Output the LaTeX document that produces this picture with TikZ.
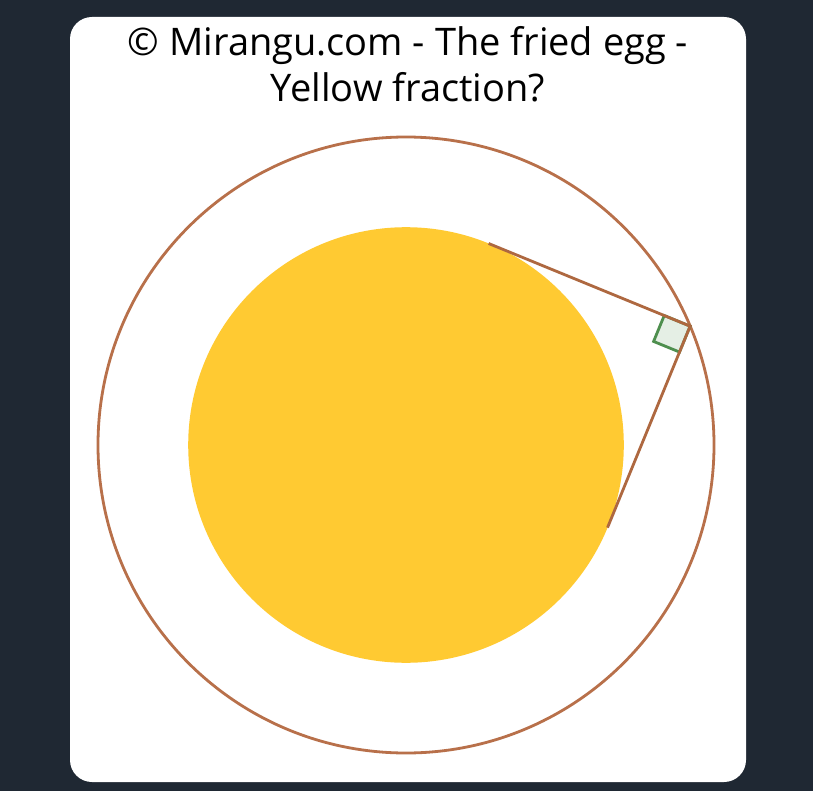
\documentclass[tikz,border=0pt]{standalone}
\usepackage{fontspec}
\setmainfont{Open Sans}
\usetikzlibrary{calc}
\definecolor{bgdark}{HTML}{1F2833}
\definecolor{eggline}{HTML}{B8704A}
\definecolor{tanline}{HTML}{AE6840}
\definecolor{yolk}{HTML}{FFCA32}
\definecolor{markgreen}{HTML}{4E8F4E}
\definecolor{markfill}{HTML}{E5EFE5}
\tikzset{
  titletext/.style={font=\fontsize{38}{46}\selectfont, anchor=base, inner sep=0pt},
  eggedge/.style={draw=eggline, line width=2.8pt},
  tangentline/.style={draw=tanline, line width=2.8pt},
  rightmark/.style={draw=markgreen, fill=markfill, line width=2.8pt, line join=miter}
}
\begin{document}
\begin{tikzpicture}[x=1pt,y=-1pt]
\fill[bgdark] (0,0) rectangle (813,791);
\useasboundingbox (0,0) rectangle (813,791);
\fill[white, rounded corners=22pt] (70,17) rectangle (746,782);
\node[titletext] (title1) at (408,56) {© Mirangu.com - The fried egg -};
\node[titletext] (title2) at (408,102) {Yellow fraction?};
\coordinate (C) at (406,445);
\fill[yolk] (C) circle (217.8);
\draw[eggedge] (C) circle (308);
\coordinate (P) at ($(C)+(-22.7:308)$);
\coordinate (T1) at ($(C)+(-67.7:217.8)$);
\coordinate (T2) at ($(C)+(22.3:217.8)$);
\coordinate (Q) at ($(P)!28pt!(T1)$);
\coordinate (R) at ($(P)!28pt!(T2)$);
\coordinate (S) at ($(Q)+(R)-(P)$);
\path[rightmark] (P) -- (Q) -- (S) -- (R) -- cycle;
\path[tangentline] (T1) -- (P) -- (T2);
\end{tikzpicture}
\end{document}
